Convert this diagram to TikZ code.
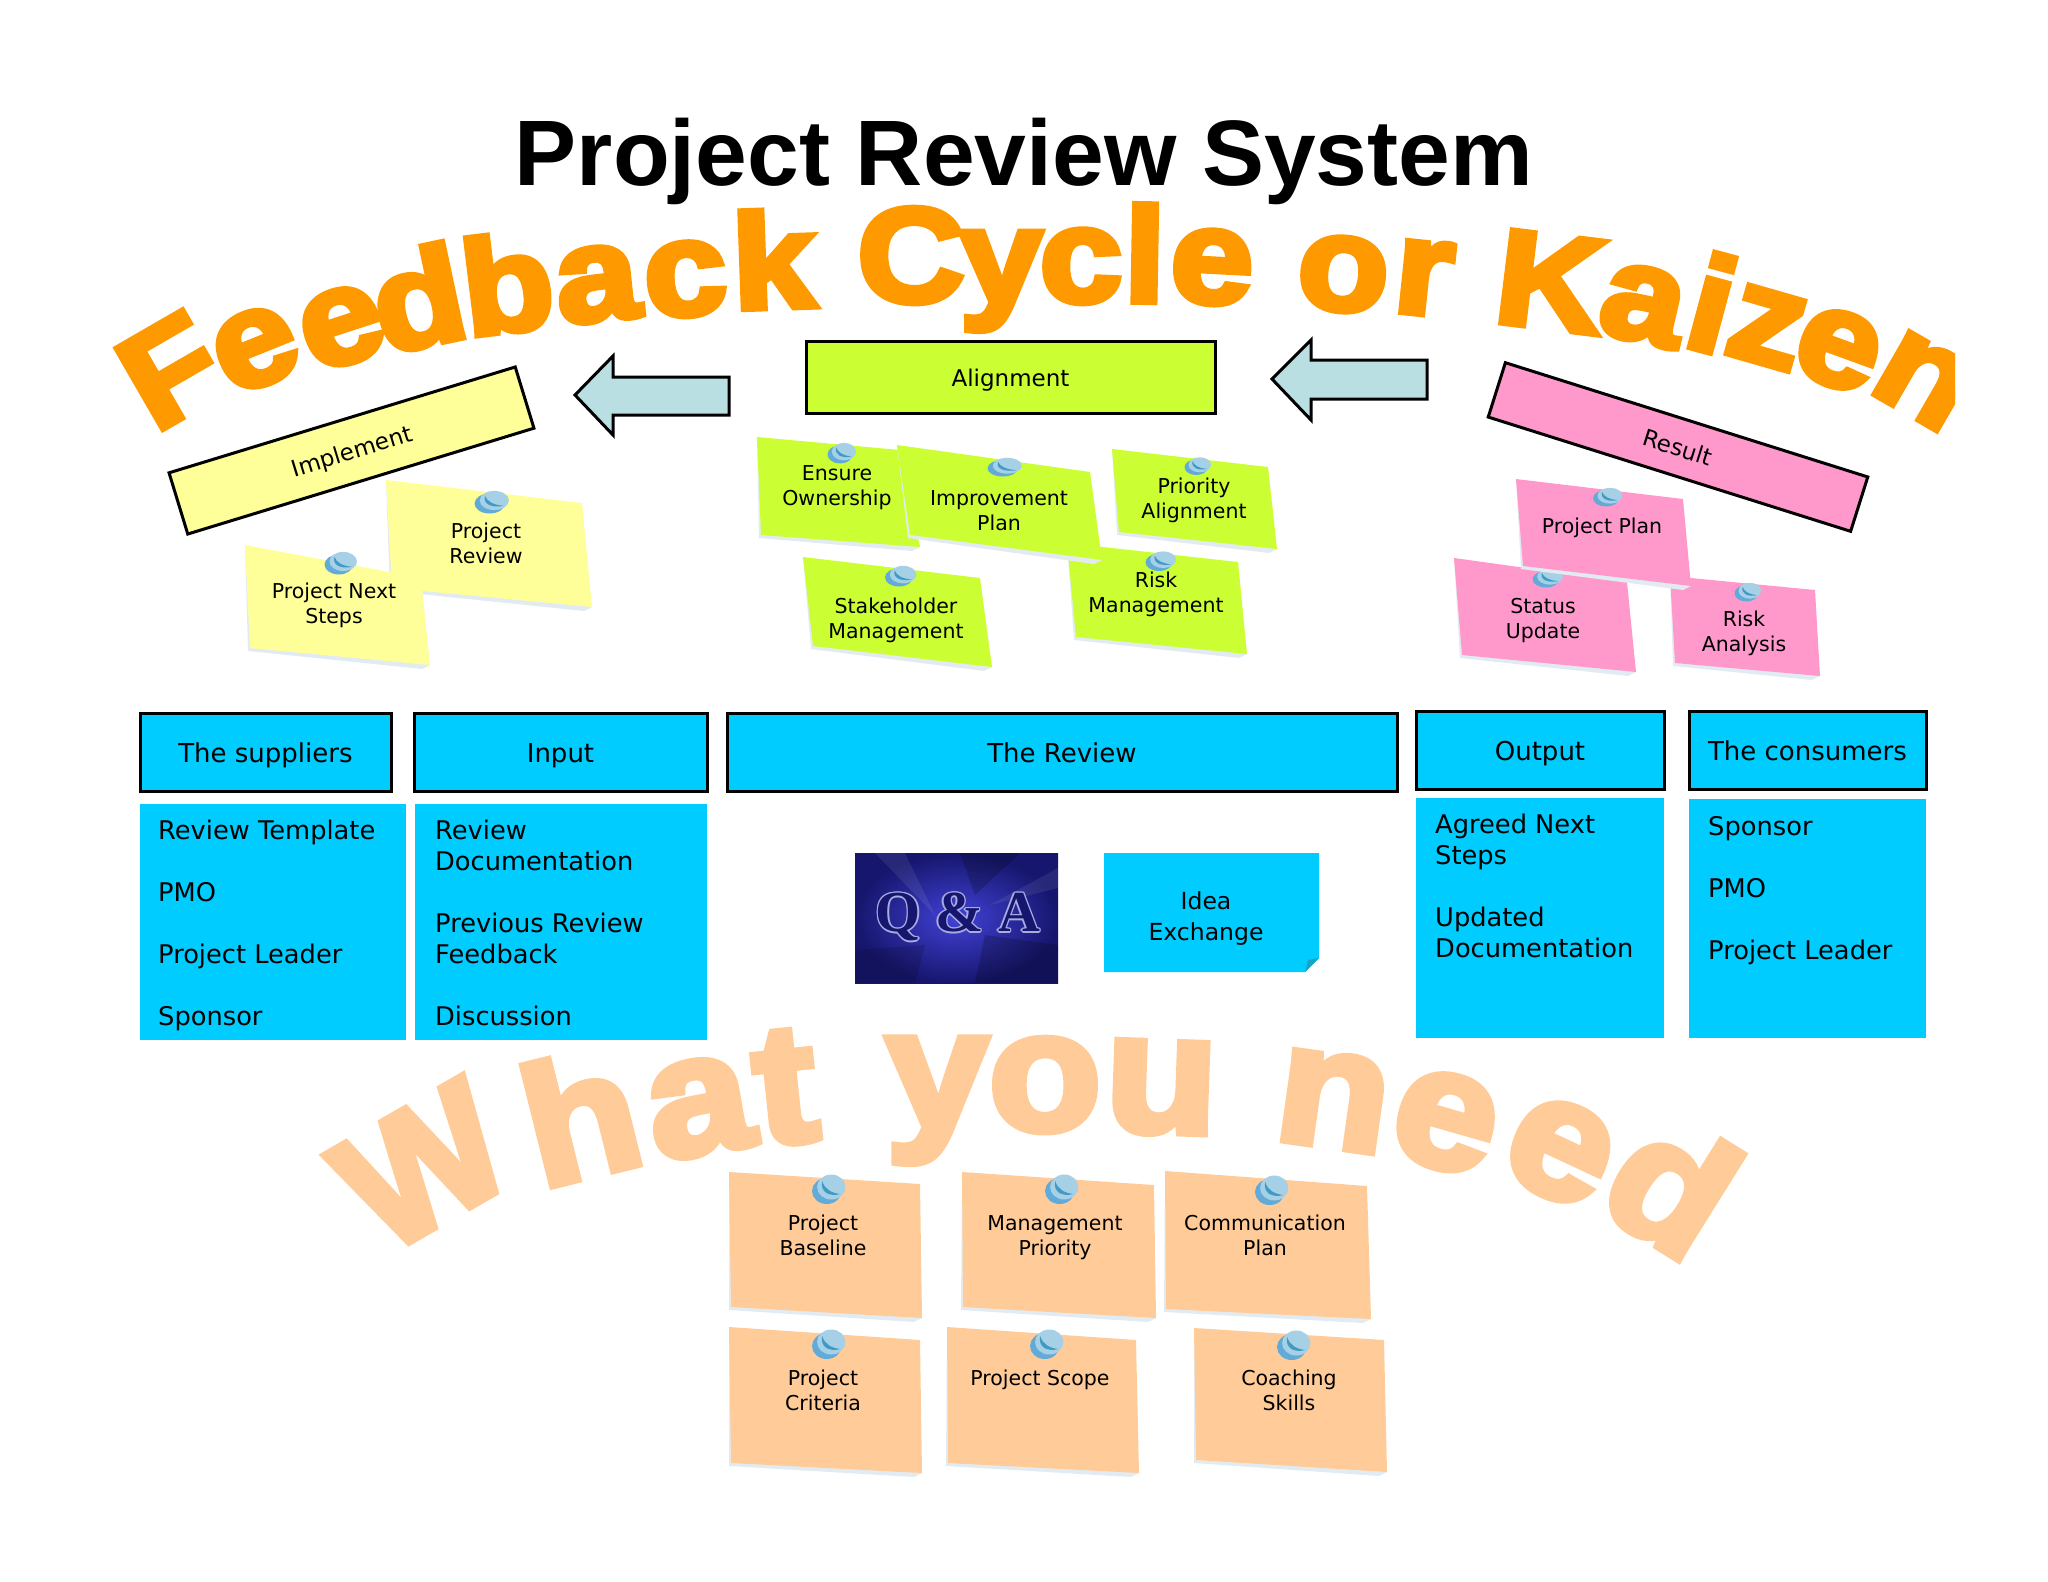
\documentclass[tikz,border=0pt]{standalone}
\usepackage{fontspec}
\setmainfont{DejaVu Sans}
\newfontfamily\titlefont{Liberation Sans Bold}
\newfontfamily\wordfont[FakeBold=4.5]{Liberation Sans Bold}
\newfontfamily\qafont{Liberation Serif Bold}
\usetikzlibrary{positioning}

\definecolor{sunorange}{HTML}{FF9900}
\definecolor{peach}{HTML}{FFCC99}
\definecolor{lime}{HTML}{CCFF33}
\definecolor{rose}{HTML}{FF99CC}
\definecolor{lemon}{HTML}{FFFF99}
\definecolor{sky}{HTML}{00CCFF}
\definecolor{foldblue}{HTML}{1BA3C6}
\definecolor{arrowteal}{HTML}{B9DFE2}
\definecolor{sheetshadow}{HTML}{E3EBF2}
\definecolor{pinedge}{HTML}{62ABD8}
\definecolor{pintop}{HTML}{A6D0E6}
\definecolor{pinmid}{HTML}{3F9BC4}
\definecolor{qadark}{HTML}{16166E}
\definecolor{qalight}{HTML}{4242D8}
\definecolor{qarim}{HTML}{A8ACE0}

% sheet name, fill, then corners nw, ne, se, sw
\newcommand{\notesheet}[6]{
  \coordinate (#1nw) at (#3);
  \coordinate (#1ne) at (#4);
  \coordinate (#1se) at (#5);
  \coordinate (#1sw) at (#6);
  \fill[sheetshadow] ([shift={(-2,3)}]#1sw) -- ([shift={(-8,4)}]#1se) -- (#1se) -- (#1nw) -- cycle;
  \fill[#2] (#1nw) -- (#1ne) -- (#1se) -- (#1sw) -- cycle;
}
% centre, width, height
\newcommand{\pushpin}[3]{
  \begin{scope}[shift={(#1)},xscale=#2/30,yscale=#3/30]
    \fill[pinedge] (-2,2) circle (13);
    \fill[pintop] (2,-2) circle (12.5);
    \fill[pinmid] (-6,-8) .. controls (-8,3) and (0,8) .. (10,5) .. controls (2,4) and (-4,0) .. (-6,-8);
  \end{scope}
}

\begin{document}
\begin{tikzpicture}[x=1pt,y=-1pt,
  title/.style={font=\titlefont\fontsize{93}{93}\selectfont},
  topword/.style={anchor=base, inner sep=0, xscale=1.1, text=sunorange, font=\wordfont\fontsize{135}{135}\selectfont},
  lowword/.style={anchor=base, inner sep=0, xscale=1.08, text=peach, font=\wordfont\fontsize{170}{170}\selectfont},
  tag/.style={draw=black, line width=3pt, text height=21pt, text depth=3pt, font=\fontsize{23}{28}\selectfont},
  header/.style={draw=black, line width=3pt, fill=sky, minimum height=78, text height=23pt, text depth=3pt, font=\fontsize{26}{31}\selectfont},
  bluebody/.style={fill=sky, anchor=north west},
  bodytext/.style={inner sep=0, align=left, font=\fontsize{25.7}{31}\selectfont},
  notetext/.style={inner sep=0, align=center, font=\fontsize{20.5}{25}\selectfont},
  flowarrow/.style={draw=black, line width=3pt, fill=arrowteal, line join=miter},
  qaface/.style={font=\qafont\fontsize{58}{58}\selectfont},
]
\useasboundingbox (0,0) rectangle (2048,1582);

\begin{scope}
\clip (0,0) rectangle (1955,1582);
\foreach \ch/\px/\py/\rot [count=\n] in {F/194/411/30, e/269/382/22, e/353/361/18, d/428/345/12, b/513/331/7,
    a/601/320/6, c/688/315/4, k/775/308/2, C/911/302/0, y/1001/303/0, c/1081/302/0, l/1144/302/-1, e/1210/303/-3,
    o/1340/310/-5, r/1420/314/-6, K/1545/328/-7, a/1635/340/-13, i/1700/350/-15, z/1757/362/-16, e/1826/383/-20, n/1905/412/-30}
  \node(feedback\n) [rotate=\rot, topword] at (\px,\py) {\ch};
\end{scope}
\node(needw) [rotate=30, lowword, xscale=.92] at (452,1217) {W};
\foreach \ch/\px/\py/\rot [count=\n] in {h/595/1175/14, a/707/1152/10, t/791/1142/6, y/937/1128/0, o/1045/1130/0,
    u/1160/1132/-2, n/1327/1146/-8, e/1433/1165/-16, e/1541/1192/-25, d/1641/1236/-32}
  \node(need\n) [rotate=\rot, lowword] at (\px,\py) {\ch};

\node(heading) [title] at (1024,161) {Project Review System};

% top row
\node(implement) [tag, fill=lemon, rotate=17, minimum width=362, minimum height=64] at (351.5,450.5) {Implement};
\node(alignment) [tag, fill=lime, minimum width=409, minimum height=72] at (1010.5,377) {Alignment};
\node(result) [tag, fill=rose, rotate=-17.5, minimum width=380, minimum height=57] at (1678,447) {Result};

\draw[flowarrow] (575,395) -- (613,356) -- (613,377) -- (729,377) -- (729,415) -- (613,415) -- (613,435) -- cycle;
\draw[flowarrow] (1272,379) -- (1311,340) -- (1311,360) -- (1427,360) -- (1427,399) -- (1311,399) -- (1311,420) -- cycle;

% implement notes
\notesheet{rev}{lemon}{386,480}{582,503}{592,607}{392,588}
\pushpin{492,502}{35}{23}
\node(revtext) [notetext] at (486,543) {Project\\Review};
\notesheet{nxt}{lemon}{245,545}{421,578}{430,665}{250,648}
\pushpin{341,563}{33}{23}
\node(nxttext) [notetext] at (334,605) {Project Next\\Steps};

% alignment notes
\notesheet{own}{lime}{757,437}{900,450}{920,547}{761,535}
\pushpin{842,453}{29}{21}
\node(owntext) [notetext] at (837,488) {Ensure\\Ownership};
\notesheet{rsk}{lime}{1067,543}{1238,562}{1247,654}{1076,637}
\pushpin{1161,561}{31}{20}
\node(rsktext) [notetext] at (1156,594) {Risk\\Management};
\notesheet{imp}{lime}{897,445}{1090,472}{1102,560}{910,535}
\pushpin{1005,467}{35}{19}
\node(imptext) [notetext] at (999,511) {Improvement\\Plan};
\notesheet{pri}{lime}{1112,449}{1268,467}{1277,549}{1119,532}
\pushpin{1198,466}{27}{18}
\node(pritext) [notetext] at (1194,500) {Priority\\Alignment};
\notesheet{stk}{lime}{803,557}{980,578}{992,667}{813,646}
\pushpin{901,576}{32}{21}
\node(stktext) [notetext] at (896,620) {Stakeholder\\Management};

% result notes
\notesheet{sta}{rose}{1454,558}{1627,582}{1636,672}{1462,655}
\pushpin{1548,578}{31}{19}
\node(statext) [notetext] at (1543,621) {Status\\Update};
\notesheet{ana}{rose}{1670,576}{1815,590}{1820,676}{1675,663}
\pushpin{1748,592}{27}{19}
\node(anatext) [notetext] at (1744,633) {Risk\\Analysis};
\notesheet{pln}{rose}{1516,479}{1683,499}{1691,586}{1523,566}
\pushpin{1608,497}{30}{19}
\node(plntext) [notetext] at (1602,528) {Project Plan};

% review columns
\node(suppliers) [header, minimum width=251] at (265.5,752) {The suppliers};
\node(input) [header, minimum width=293] at (560.5,752) {Input};
\node(review) [header, minimum width=670] at (1062,752) {The Review};
\node(output) [header, minimum width=248] at (1540,750) {Output};
\node(consumers) [header, minimum width=237] at (1807.5,750) {The consumers};

\node(suppliersbody) [bluebody, minimum width=266, minimum height=236] at (140,804) {};
\node(inputbody) [bluebody, minimum width=292, minimum height=236] at (415,804) {};
\node(outputbody) [bluebody, minimum width=248, minimum height=240] at (1416,798) {};
\node(consumersbody) [bluebody, minimum width=237, minimum height=239] at (1689,799) {};

\node(supplierstext) [bodytext, below right=16pt and 18pt of suppliersbody.north west]
  {Review Template\\[31pt]PMO\\[31pt]Project Leader\\[31pt]Sponsor};
\node(inputtext) [bodytext, below right=16pt and 20pt of inputbody.north west]
  {Review\\Documentation\\[31pt]Previous Review\\Feedback\\[31pt]Discussion};
\node(outputtext) [bodytext, below right=16pt and 19pt of outputbody.north west]
  {Agreed Next\\Steps\\[31pt]Updated\\Documentation};
\node(consumerstext) [bodytext, below right=17pt and 19pt of consumersbody.north west]
  {Sponsor\\[31pt]PMO\\[31pt]Project Leader};

% q and a picture
\begin{scope}
\clip (855,853) rectangle (1058,983);
\shade[inner color=qalight, outer color=qadark] (855,853) rectangle (1058,983);
\fill[white, opacity=.08] (935,915) -- (875,853) -- (905,853) -- cycle;
\fill[white, opacity=.08] (990,905) -- (1058,868) -- (1058,888) -- cycle;
\fill[black, opacity=.2] (985,935) -- (1058,945) -- (1058,983) -- (975,983) -- cycle;
\fill[black, opacity=.2] (975,895) -- (960,853) -- (1020,853) -- cycle;
\fill[black, opacity=.15] (925,945) -- (855,950) -- (855,983) -- (915,983) -- cycle;
\end{scope}
\foreach \a in {0,45,...,315}
  \node(qarim\a) [qaface, text=qarim] at ([shift={(\a:1.5)}]958,917) {Q \& A};
\node(qatext) [qaface, text=qadark] at (958,917) {Q \& A};

% idea sheet
\fill[sky] (1104,853) -- (1319,853) -- (1319,958) -- (1305,972) -- (1104,972) -- cycle;
\fill[foldblue] (1319,958) -- (1305,972) -- (1308,960) -- cycle;
\node(ideatext) [inner sep=0, align=center, font=\fontsize{23.5}{31}\selectfont] at (1206,919) {Idea\\Exchange};

% what you need notes
\notesheet{bas}{peach}{729,1172}{920,1184}{922,1318}{731,1307}
\pushpin{829,1189}{34}{30}
\node(bastext) [notetext] at (823,1235) {Project\\Baseline};
\notesheet{mgt}{peach}{962,1172}{1154,1185}{1156,1318}{963,1307}
\pushpin{1062,1189}{34}{30}
\node(mgttext) [notetext] at (1055,1238) {Management\\Priority};
\notesheet{com}{peach}{1165,1171}{1367,1186}{1371,1319}{1166,1309}
\pushpin{1272,1190}{34}{30}
\node(comtext) [notetext] at (1265,1235) {Communication\\Plan};
\notesheet{cri}{peach}{729,1327}{920,1340}{922,1473}{731,1463}
\pushpin{829,1344}{34}{30}
\node(critext) [notetext] at (823,1390) {Project\\Criteria};
\notesheet{sco}{peach}{947,1327}{1136,1340}{1139,1473}{948,1463}
\pushpin{1047,1344}{34}{30}
\node(scotext) [notetext] at (1040,1380) {Project Scope};
\notesheet{coa}{peach}{1194,1328}{1384,1340}{1387,1472}{1196,1460}
\pushpin{1294,1345}{34}{30}
\node(coatext) [notetext] at (1289,1390) {Coaching\\Skills};

\end{tikzpicture}
\end{document}
